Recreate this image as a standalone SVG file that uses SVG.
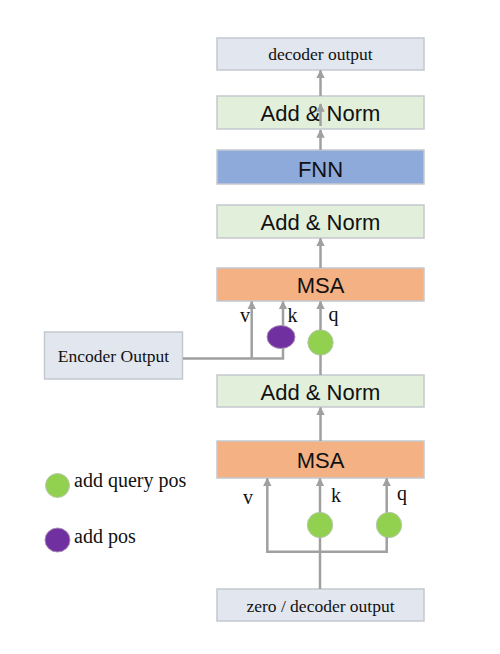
<svg xmlns="http://www.w3.org/2000/svg" width="500" height="654" viewBox="0 0 500 654">
<style>
.box{stroke:#c4c9d0;stroke-width:1.5}
.io{fill:#e2e7ef}
.an{fill:#e2efda}
.fnn{fill:#8eaadb}
.msa{fill:#f4b183}
.sans{font-family:"Liberation Sans",Arial,sans-serif;fill:#111;text-anchor:middle}
.serif{font-family:"Liberation Serif","Times New Roman",serif;fill:#111}
.ln{stroke:#a0a0a0;stroke-width:2.5;fill:none}
.arr{stroke:#a0a0a0;stroke-width:2.5;fill:none;marker-end:url(#ah)}
.g{fill:#92d050;stroke:#b9c9b0;stroke-width:1}
.p{fill:#7030a0;stroke:#a890b8;stroke-width:1}
</style>
<defs>
<marker id="ah" viewBox="0 0 10 10" refX="9" refY="5" markerWidth="3.4" markerHeight="3.4" orient="auto" markerUnits="strokeWidth">
<path d="M0,0 L10,5 L0,10 z" fill="#a0a0a0"/>
</marker>
</defs>
<rect width="500" height="654" fill="#fff"/>
<g id="decoder-output"><rect class="box io" x="217" y="38" width="207" height="32"/><text class="serif" x="320.5" y="59.5" font-size="17.5" text-anchor="middle">decoder output</text></g>
<g id="add-norm-1"><rect class="box an" x="217" y="96" width="207" height="33"/><text class="sans" x="320.5" y="120.5" font-size="22">Add &amp; Norm</text></g>
<g id="fnn"><rect class="box fnn" x="217" y="150" width="207" height="34"/><text class="sans" x="320.5" y="176.5" font-size="22">FNN</text></g>
<g id="add-norm-2"><rect class="box an" x="217" y="205" width="207" height="33"/><text class="sans" x="320.5" y="229.5" font-size="22">Add &amp; Norm</text></g>
<g id="msa-1"><rect class="box msa" x="217" y="268" width="207" height="33"/><text class="sans" x="320.5" y="292.5" font-size="22">MSA</text></g>
<g id="encoder-output"><rect class="box io" x="44.5" y="332" width="138" height="47"/><text class="serif" x="113.5" y="361.5" font-size="17.5" text-anchor="middle">Encoder Output</text></g>
<g id="add-norm-3"><rect class="box an" x="217" y="375" width="207" height="32"/><text class="sans" x="320.5" y="399.5" font-size="22">Add &amp; Norm</text></g>
<g id="msa-2"><rect class="box msa" x="217" y="441" width="207" height="37"/><text class="sans" x="320.5" y="467.5" font-size="22">MSA</text></g>
<g id="zero-decoder-output"><rect class="box io" x="217" y="589" width="207" height="32"/><text class="serif" x="320.5" y="611.5" font-size="17.5" text-anchor="middle">zero / decoder output</text></g>
<g id="pos-k1"><ellipse class="p" cx="281" cy="337" rx="14" ry="11.5"/></g>
<g id="pos-q1"><circle class="g" cx="320.5" cy="342.5" r="12.7"/></g>
<g id="pos-k2"><circle class="g" cx="320" cy="525" r="12.7"/></g>
<g id="pos-q2"><circle class="g" cx="389" cy="525" r="12.7"/></g>
<g id="legend">
<circle class="g" cx="57.5" cy="485.5" r="12"/><text class="serif" x="74" y="487" font-size="20">add query pos</text>
<ellipse class="p" cx="57.5" cy="540" rx="12.5" ry="12"/><text class="serif" x="74" y="543" font-size="20">add pos</text>
</g>
<g id="connectors">
<line class="arr" x1="320.5" y1="96" x2="320.5" y2="70.5"/>
<line class="arr" x1="320.5" y1="126" x2="320.5" y2="104"/>
<line class="arr" x1="320.5" y1="150" x2="320.5" y2="130"/>
<line class="arr" x1="320.5" y1="268" x2="320.5" y2="238.5"/>
<polyline class="ln" points="183,358.5 283,358.5 283,348"/>
<line class="arr" x1="283" y1="326" x2="283" y2="301.5"/>
<line class="arr" x1="251.7" y1="358.5" x2="251.7" y2="301.5"/>
<line class="ln" x1="320.5" y1="375" x2="320.5" y2="355"/>
<line class="arr" x1="320.5" y1="330" x2="320.5" y2="301.5"/>
<line class="arr" x1="320.5" y1="441" x2="320.5" y2="407.5"/>
<line class="ln" x1="320" y1="589" x2="320" y2="537.5"/>
<polyline class="ln" points="386.7,537 386.7,551.7 267.3,551.7"/>
<line class="arr" x1="267.3" y1="553" x2="267.3" y2="478.5"/>
<line class="arr" x1="320" y1="512.5" x2="320" y2="478.5"/>
<line class="arr" x1="386.7" y1="512.5" x2="386.7" y2="478.5"/>
</g>
<g id="labels">
<text class="serif" x="240" y="322" font-size="20">v</text>
<text class="serif" x="287.5" y="322" font-size="20">k</text>
<text class="serif" x="328.5" y="321" font-size="20">q</text>
<text class="serif" x="243" y="504" font-size="20">v</text>
<text class="serif" x="331" y="502" font-size="20">k</text>
<text class="serif" x="397" y="500" font-size="20">q</text>
</g>
</svg>
